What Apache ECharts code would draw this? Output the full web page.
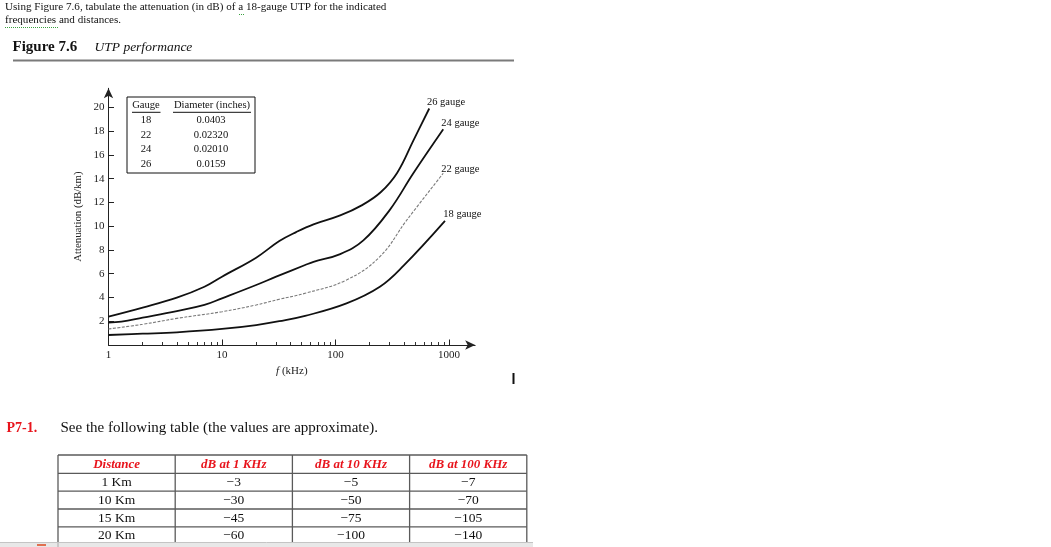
<!DOCTYPE html>
<html><head><meta charset="utf-8">
<script src="https://cdn.jsdelivr.net/npm/echarts@6/dist/echarts.min.js"></script>
<style>html,body{margin:0;padding:0;background:#fff}#c{width:1051px;height:547px}</style>
</head><body><div id="c"></div>
<script>
// ---- chart data (f in kHz, attenuation in dB/km) ----
const gauge26 = [[1,2.38],[2,3.14],[4,3.98],[7,4.9],[10,5.75],[20,7.35],[32,8.75],[45,9.5],[64,10.15],[110,10.9],[170,11.75],[250,12.85],[350,14.5],[485,17.2],[670,19.9]];
const gauge24 = [[1,1.88],[1.3,1.96],[2,2.3],[4,2.86],[7,3.37],[10,3.93],[20,5.05],[30,5.75],[54,6.73],[64,7.0],[110,7.65],[176,8.8],[300,11.35],[485,14.45],[890,18.15]];
const gauge22 = [[1,1.35],[2,1.74],[4,2.24],[10,2.8],[20,3.37],[32,3.85],[54,4.35],[125,5.47],[246,7.43],[424,10.5],[890,14.45]];
const gauge18 = [[1,0.84],[2,0.95],[4,1.07],[10,1.35],[20,1.68],[32,2.0],[54,2.45],[125,3.5],[246,4.9],[400,6.7],[922,10.45]];
const seriesNames = ['26 gauge','24 gauge','22 gauge','18 gauge'];
const xMajorTicks = [1,10,100,1000];
const xMinorTicks = [2,3,4,5,6,7,8,9,20,30,40,50,60,70,80,90,200,300,400,500,600,700,800,900];
const yTicks = [2,4,6,8,10,12,14,16,18,20];
// ---- inset table ----
const insetHeader = ['Gauge','Diameter (inches)'];
const gauges = ['18','22','24','26'];
const diameters = ['0.0403','0.02320','0.02010','0.0159'];
// ---- page texts ----
const introLines = ['Using Figure 7.6, tabulate the attenuation (in dB) of a 18-gauge UTP for the indicated','frequencies and distances.'];
const figNumber = 'Figure 7.6';
const figTitle = 'UTP performance';
const problemId = 'P7-1.';
const problemText = 'See the following table (the values are approximate).';
// ---- answer table ----
const tableHeader = ['Distance','dB at 1 KHz','dB at 10 KHz','dB at 100 KHz'];
const distances = ['1 Km','10 Km','15 Km','20 Km'];
const dbAt1 = [-3,-30,-45,-60];
const dbAt10 = [-5,-50,-75,-100];
const dbAt100 = [-7,-70,-105,-140];

const SERIF = '"Liberation Serif","Times New Roman",serif';
const RED = '#e8141c';
const G = [];
function txt(x, y, text, font, fill, align, valign) {
  G.push({type:'text', silent:true, style:{x:x, y:y, text:text, font:font, fill:fill||'#111',
    textAlign:align||'left', align:align||'left', textVerticalAlign:valign||'middle', verticalAlign:valign||'middle'}});
}
function ln(x1, y1, x2, y2, stroke, w, dash) {
  G.push({type:'line', silent:true, shape:{x1:x1,y1:y1,x2:x2,y2:y2}, style:{stroke:stroke, lineWidth:w, lineDash:dash||null}});
}
function rc(x, y, w, h, fill, stroke, lw) {
  G.push({type:'rect', silent:true, shape:{x:x,y:y,width:w,height:h}, style:{fill:fill||'none', stroke:stroke||'none', lineWidth:lw||1}});
}

// header texts
txt(5, 7, introLines[0], '11.1px ' + SERIF, '#111');
txt(5, 20, introLines[1], '11.1px ' + SERIF, '#111');
ln(239, 14.5, 245, 14.5, '#3aa040', 1, [1,1]);
ln(5, 27.5, 59, 27.5, '#3aa040', 1, [1,1]);
txt(12.5, 47.3, figNumber, 'bold 15px ' + SERIF, '#111');
txt(94.5, 47.6, figTitle, 'italic 13.5px ' + SERIF, '#111');
ln(13, 60.5, 514, 60.5, '#7a7a7a', 2);

// inset table
rc(127, 97, 128, 76, 'none', '#111', 1);
const insetCols = [146, 212];
insetHeader.forEach(function (h, i) {
  txt(insetCols[i], 105.5, h, '10.6px ' + SERIF, '#111', 'center');
});
ln(132, 112.3, 160.5, 112.3, '#111', 1);
ln(173, 112.3, 251, 112.3, '#111', 1);
const insetRowY = [120.5, 135, 149.7, 164.2];
gauges.forEach(function (g, i) {
  txt(insetCols[0], insetRowY[i], g, '10.6px ' + SERIF, '#111', 'center');
  txt(211, insetRowY[i], diameters[i], '10.6px ' + SERIF, '#111', 'center');
});

// problem text
txt(6.5, 428.5, problemId, 'bold 14px ' + SERIF, RED);
txt(60.5, 428.5, problemText, '15px ' + SERIF, '#111');

// answer table
const colX = [58, 175.2, 292.4, 409.6, 526.8];
const rowY = [455, 473.3, 491.2, 509, 526.8, 543];
for (let r = 1; r < rowY.length - 1; r++) ln(colX[0], rowY[r], colX[4], rowY[r], '#5a5a5a', 1.3);
for (let c = 0; c < colX.length; c++) ln(colX[c], rowY[0], colX[c], rowY[rowY.length-1], '#5a5a5a', 1.3);
ln(colX[0], rowY[0], colX[4], rowY[0], '#5a5a5a', 1.3);
function fmt(v) { return v < 0 ? '\u2212' + Math.abs(v) : String(v); }
tableHeader.forEach(function (h, c) {
  txt((colX[c] + colX[c+1]) / 2, 464.3, h, 'bold italic 13px ' + SERIF, RED, 'center');
});
const cols = [distances, dbAt1.map(fmt), dbAt10.map(fmt), dbAt100.map(fmt)];
for (let r = 0; r < distances.length; r++) {
  for (let c = 0; c < 4; c++) {
    txt((colX[c] + colX[c+1]) / 2, (rowY[r+1] + rowY[r+2]) / 2 + 0.3, cols[c][r], '13.5px ' + SERIF, '#111', 'center');
  }
}
// window bottom strip and text cursor
rc(0, 542.5, 533, 5, '#e8e8e8');
ln(0, 542.5, 533, 542.5, '#c4c4c4', 1);
ln(58, 543, 58, 547, '#aaa', 1);
rc(37, 544, 9, 2, '#e07050');
rc(512.5, 373, 2, 11, '#111');

const lineColor = '#111';
const endOffsets = [[-2.3,-6],[-2,-6.3],[-2,-4],[-1.7,-7]];
const datasets = [gauge26, gauge24, gauge22, gauge18];
const series = datasets.map(function (d, i) {
  const dashed = i === 2;
  return {
    type:'line', name:seriesNames[i], data:d, xAxisIndex:0, yAxisIndex:0,
    smooth:0.4, showSymbol:false, symbol:'none', silent:true,
    lineStyle: dashed ? {color:'#7a7a7a', width:1.1, type:[3,1.5]} : {color:lineColor, width:1.8},
    endLabel:{show:true, formatter:seriesNames[i], distance:0, offset:endOffsets[i],
      fontFamily:SERIF, fontSize:10.5, color:'#111'},
    z: dashed ? 2 : 3
  };
});

const chart = echarts.init(document.getElementById('c'), null, {renderer:'canvas'});
const pxPerUnit = 11.885;
const yMax = 21.6;
chart.setOption({
  animation:false,
  backgroundColor:'#fff',
  grid:{left:108.5, top:345 - yMax*pxPerUnit, width:366.65, height:yMax*pxPerUnit, containLabel:false, outerBoundsMode:'none'},
  xAxis:[{
    type:'log', min:1, max:1700, logBase:10, position:'bottom',
    axisLine:{show:true, onZero:false, symbol:['none','arrow'], symbolSize:[7,10], lineStyle:{color:'#222', width:1}},
    axisTick:{show:true, inside:true, length:5.5, customValues:xMajorTicks, lineStyle:{color:'#222', width:1}},
    axisLabel:{show:true, customValues:xMajorTicks, margin:4.5, fontFamily:SERIF, fontSize:11, color:'#222',
      formatter:function (v) { return String(Math.round(v)); }},
    splitLine:{show:false}, minorTick:{show:false},
    name:'{i|f} (kHz)', nameLocation:'middle', nameGap:21,
    nameTextStyle:{fontFamily:SERIF, fontSize:11, color:'#222', rich:{i:{fontStyle:'italic', fontFamily:SERIF, fontSize:11, color:'#222'}}}
  },{
    type:'log', min:1, max:1700, logBase:10, position:'bottom', gridIndex:0,
    axisLine:{show:false, onZero:false},
    axisTick:{show:true, inside:true, length:3, customValues:xMinorTicks, lineStyle:{color:'#333', width:1}},
    axisLabel:{show:false}, splitLine:{show:false}
  }],
  yAxis:{
    type:'value', min:0, max:yMax,
    axisLine:{show:true, onZero:false, symbol:['none','arrow'], symbolSize:[7,10], lineStyle:{color:'#222', width:1}},
    axisTick:{show:true, inside:true, length:5.5, customValues:yTicks, lineStyle:{color:'#222', width:1}},
    axisLabel:{customValues:yTicks, margin:4, fontFamily:SERIF, fontSize:11, color:'#222',
      formatter:function (v) { return String(v); }},
    splitLine:{show:false},
    name:'Attenuation (dB/km)', nameLocation:'middle', nameGap:25,
    nameTextStyle:{fontFamily:SERIF, fontSize:10.8, color:'#222'}
  },
  series:series,
  graphic:{elements:G}
});
</script></body></html>
